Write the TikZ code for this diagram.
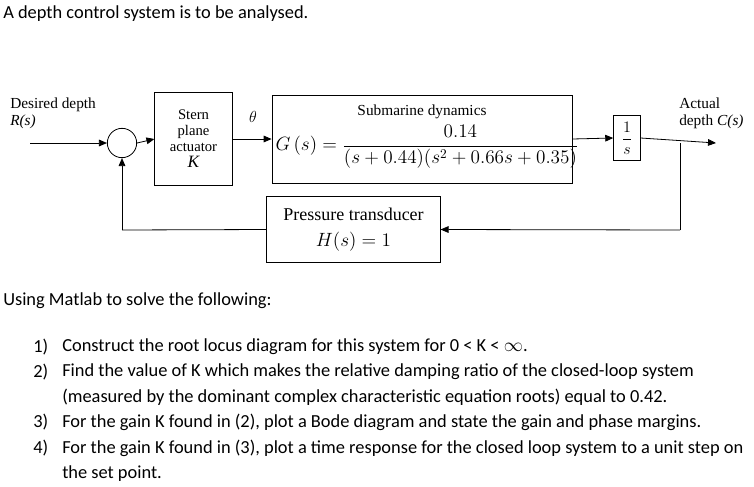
\documentclass[tikz,border=0pt]{standalone}
\usepackage{fontspec}
\usepackage{amsmath}
\setmainfont{Carlito}
\newfontfamily\tms{Liberation Serif}
\usetikzlibrary{arrows.meta}
\begin{document}
\begin{tikzpicture}[x=0.75pt,y=-0.75pt,
  blk/.style={draw,line width=0.6pt,inner sep=0pt},
  sig/.style={line width=0.6pt,-{Triangle[length=6pt,width=5pt]}},
  ln/.style={line width=0.6pt},
  txt/.style={anchor=west,inner sep=0pt,font=\fontsize{13.8}{15}\selectfont},
  lab/.style={inner sep=0pt,font=\tms\fontsize{11.5}{12.5}\selectfont,align=center}]
\useasboundingbox (0,0) rectangle (754,486);
\fill[white] (0,0) rectangle (754,486);
\node[txt] (t0) at (3,14) {A depth control system is to be analysed.};
% blocks
\node[blk,draw,circle,minimum size=22pt] (sum) at (122,143) {};
\node[blk,minimum width=58pt,minimum height=70pt] (K) at (193.5,139) {};
\node[lab,font=\tms\fontsize{11}{12}\selectfont] (Kt) at (193.5,139) {Stern\\plane\\actuator\\{\fontsize{13}{13}\selectfont\itshape K}};
\node[blk,minimum width=225pt,minimum height=66pt] (G) at (422,139) {};
\node[lab] (Gh) at (422,112) {Submarine dynamics};
\node[inner sep=0pt,font=\tms\fontsize{14.5}{16}\selectfont] (Gt) at (427,147) {$G\,(s)=\dfrac{0.14}{(s+0.44)(s^2+0.66s+0.35)}$};
\node[blk,minimum width=20pt,minimum height=34pt] (I) at (627,138) {};
\node[inner sep=0pt,font=\tms\fontsize{12}{13}\selectfont] (It) at (627,138) {$\dfrac{1}{s}$};
\node[blk,minimum width=130pt,minimum height=49pt] (H) at (353.5,229.5) {};
\node[lab,font=\tms\fontsize{13.5}{15}\selectfont] (Ht) at (353.5,229.5) {Pressure transducer\\[4pt]$H(s)=1$};
% labels
\node[lab,anchor=west,align=left] (R) at (10,113) {Desired depth\\\itshape R(s)};
\node[lab,anchor=west,align=left] (C) at (679,113) {Actual\\depth \itshape C(s)};
\node[inner sep=0pt,font=\fontsize{13}{14}\selectfont] (th) at (253,117) {$\theta$};
% connectors
\coordinate (in) at (30,143);
\coordinate (out) at (716,143);
\coordinate (br) at (680,143);
\coordinate (fbr) at (680,230);
\coordinate (fbl) at (122,230);
\draw[sig] (in) -- (sum.west);
\draw[sig] (sum.east) -- (K.west);
\draw[sig] (K.east) -- (G.west);
\draw[sig] (G.east) -- (I.west);
\draw[sig] (I.east) -- (out);
\draw[ln] (br) -- (fbr);
\draw[sig] (fbr) -- (H.east);
\draw[ln] (H.west) -- (fbl);
\draw[sig] (fbl) -- (sum.south);
% text
\node[txt] (u) at (3,301) {Using Matlab to solve the following:};
\node[txt] (n1) at (33,347) {1)};
\node[txt] (l1) at (62,347) {Construct the root locus diagram for this system for 0 < K < $\infty$.};
\node[txt] (n2) at (33,372) {2)};
\node[txt] (l2) at (62,372) {Find the value of K which makes the relative damping ratio of the closed-loop system};
\node[txt] (l2b) at (62,397) {(measured by the dominant complex characteristic equation roots) equal to 0.42.};
\node[txt] (n3) at (33,422) {3)};
\node[txt] (l3) at (62,422) {For the gain K found in (2), plot a Bode diagram and state the gain and phase margins.};
\node[txt] (n4) at (33,448) {4)};
\node[txt] (l4) at (62,448) {For the gain K found in (3), plot a time response for the closed loop system to a unit step on};
\node[txt] (l4b) at (62,474) {the set point.};
\end{tikzpicture}
\end{document}
